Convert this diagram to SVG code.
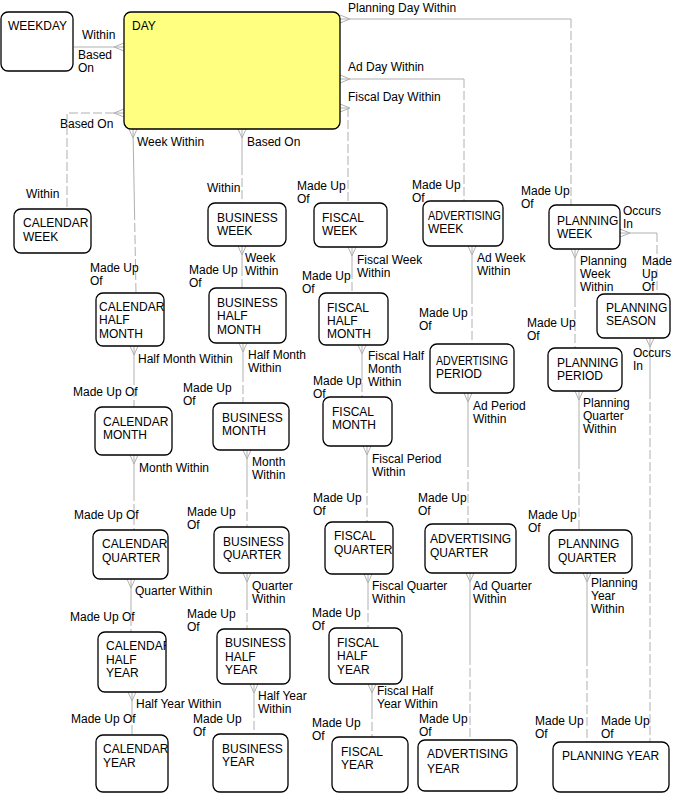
<svg xmlns="http://www.w3.org/2000/svg" width="674" height="794" viewBox="0 0 674 794">
<style>
.e rect{fill:#fff;stroke:#000;stroke-width:1.3}
#day rect{fill:#ffff80}
text{font-family:"Liberation Sans",Arial,sans-serif;font-size:12px;fill:#000}
.c path{fill:none;stroke:#b0b0b0;stroke-width:1}
.c path.d{stroke-dasharray:9 3}
</style>
<defs>
<clipPath id="clipChy"><rect x="98" y="632" width="68" height="60"/></clipPath>
</defs>
<rect width="674" height="794" fill="#fff"/>
<g id="connectors" class="c">
<path d="M74 47H124M114 47L124 43M114 47L124 51"/>
<path class="d" d="M114 113H67V209"/>
<path d="M114 113H124M114 113L124 109M114 113L124 117"/>
<path d="M133 129L134.5 211M133 138L129 129M133 138L137 129"/>
<path class="d" d="M134.5 211L136 293"/>
<path d="M134 346V376M134 355L130 346M134 355L138 346"/>
<path class="d" d="M134 376V407"/>
<path d="M134 455V492M134 464L130 455M134 464L138 455"/>
<path class="d" d="M134 492V530"/>
<path d="M131 579V605M131 588L127 579M131 588L135 579"/>
<path class="d" d="M131 605V632"/>
<path d="M132 692V713M132 701L128 692M132 701L136 692"/>
<path class="d" d="M132 713V735"/>
<path d="M242 129V166M242 138L238 129M242 138L246 129"/>
<path class="d" d="M242 166V203"/>
<path d="M242 246V267M242 255L238 246M242 255L246 246"/>
<path class="d" d="M242 267V288"/>
<path d="M243 343V373M243 352L239 343M243 352L247 343"/>
<path class="d" d="M243 373V403"/>
<path d="M247 450V488M247 459L243 450M247 459L251 450"/>
<path class="d" d="M247 488V527"/>
<path d="M247 573V601M247 582L243 573M247 582L251 573"/>
<path class="d" d="M247 601V629"/>
<path d="M254 684V709M254 693L250 684M254 693L258 684"/>
<path class="d" d="M254 709V734"/>
<path d="M340 108H348M350 108L340 104M350 108L340 112"/>
<path class="d" d="M348 108V203"/>
<path d="M352 247V270M352 256L348 247M352 256L356 247"/>
<path class="d" d="M352 270V293"/>
<path d="M362 345V371M362 354L358 345M362 354L366 345"/>
<path class="d" d="M362 371V397"/>
<path d="M367 446V484M367 455L363 446M367 455L371 446"/>
<path class="d" d="M367 484V522"/>
<path d="M368 574V601M368 583L364 574M368 583L372 574"/>
<path class="d" d="M368 601V628"/>
<path d="M372 684V710M372 693L368 684M372 693L376 684"/>
<path class="d" d="M372 710V737"/>
<path d="M340 79H464M350 79L340 75M350 79L340 83"/>
<path class="d" d="M464 79V201"/>
<path d="M472 246V295M472 255L468 246M472 255L476 246"/>
<path class="d" d="M472 295V344"/>
<path d="M468 393V458M468 402L464 393M468 402L472 393"/>
<path class="d" d="M468 458V524"/>
<path d="M470 573V656M470 582L466 573M470 582L474 573"/>
<path class="d" d="M470 656V740"/>
<path d="M340 19H571M350 19L340 15M350 19L340 23"/>
<path class="d" d="M571 19V205"/>
<path d="M620 233H657M630 233L620 229M630 233L620 237"/>
<path class="d" d="M657 233V294"/>
<path d="M575 249V298M575 258L571 249M575 258L579 249"/>
<path class="d" d="M575 298V348"/>
<path d="M579 391V460M579 400L575 391M579 400L583 391"/>
<path class="d" d="M579 460V530"/>
<path d="M587 573V657M587 582L583 573M587 582L591 573"/>
<path class="d" d="M587 657V742"/>
<path d="M650 338V390M650 347L646 338M650 347L654 338"/>
<path class="d" d="M650 390V742"/>
</g>
<g id="labels">
<text x="82" y="39">Within</text>
<text x="78" y="58.5">Based<tspan x="78" dy="13">On</tspan></text>
<text x="60" y="128">Based On</text>
<text x="26" y="198">Within</text>
<text x="137" y="146">Week Within</text>
<text x="90" y="272">Made Up<tspan x="90" dy="13">Of</tspan></text>
<text x="138" y="363">Half Month Within</text>
<text x="73" y="396">Made Up Of</text>
<text x="139" y="472">Month Within</text>
<text x="74" y="519">Made Up Of</text>
<text x="135" y="595">Quarter Within</text>
<text x="70" y="621">Made Up Of</text>
<text x="136" y="708">Half Year Within</text>
<text x="71" y="723">Made Up Of</text>

<text x="247" y="146">Based On</text>
<text x="207" y="192">Within</text>
<text x="245" y="262">Week<tspan x="245" dy="13">Within</tspan></text>
<text x="189" y="273.5">Made Up<tspan x="189" dy="13">Of</tspan></text>
<text x="248" y="358.5">Half Month<tspan x="248" dy="13">Within</tspan></text>
<text x="183" y="391.5">Made Up<tspan x="183" dy="13">Of</tspan></text>
<text x="252" y="466">Month<tspan x="252" dy="13">Within</tspan></text>
<text x="187" y="516">Made Up<tspan x="187" dy="13">Of</tspan></text>
<text x="252" y="589.5">Quarter<tspan x="252" dy="13">Within</tspan></text>
<text x="187" y="617.5">Made Up<tspan x="187" dy="13">Of</tspan></text>
<text x="258" y="700">Half Year<tspan x="258" dy="13">Within</tspan></text>
<text x="193" y="722.5">Made Up<tspan x="193" dy="13">Of</tspan></text>

<text x="348" y="101">Fiscal Day Within</text>
<text x="297" y="189.5">Made Up<tspan x="297" dy="13">Of</tspan></text>
<text x="357" y="263.5">Fiscal Week<tspan x="357" dy="13">Within</tspan></text>
<text x="302" y="280">Made Up<tspan x="302" dy="13">Of</tspan></text>
<text x="368" y="359.5">Fiscal Half<tspan x="368" dy="13">Month</tspan><tspan x="368" dy="13">Within</tspan></text>
<text x="313" y="384.5">Made Up<tspan x="313" dy="13">Of</tspan></text>
<text x="372" y="463">Fiscal Period<tspan x="372" dy="13">Within</tspan></text>
<text x="313" y="501.5">Made Up<tspan x="313" dy="13">Of</tspan></text>
<text x="372" y="589.5">Fiscal Quarter<tspan x="372" dy="13">Within</tspan></text>
<text x="312" y="617">Made Up<tspan x="312" dy="13">Of</tspan></text>
<text x="377" y="694.5">Fiscal Half<tspan x="377" dy="13">Year Within</tspan></text>
<text x="312" y="726.5">Made Up<tspan x="312" dy="13">Of</tspan></text>

<text x="348" y="71">Ad Day Within</text>
<text x="412" y="188.5">Made Up<tspan x="412" dy="13">Of</tspan></text>
<text x="477" y="262">Ad Week<tspan x="477" dy="13">Within</tspan></text>
<text x="419" y="316.5">Made Up<tspan x="419" dy="13">Of</tspan></text>
<text x="473" y="409.5">Ad Period<tspan x="473" dy="13">Within</tspan></text>
<text x="418" y="502">Made Up<tspan x="418" dy="13">Of</tspan></text>
<text x="473" y="589.5">Ad Quarter<tspan x="473" dy="13">Within</tspan></text>
<text x="419" y="722.5">Made Up<tspan x="419" dy="13">Of</tspan></text>

<text x="348" y="12">Planning Day Within</text>
<text x="521" y="194.5">Made Up<tspan x="521" dy="13">Of</tspan></text>
<text x="623" y="215">Occurs<tspan x="623" dy="13">In</tspan></text>
<text x="580" y="264.5">Planning<tspan x="580" dy="13">Week</tspan><tspan x="580" dy="13">Within</tspan></text>
<text x="642" y="264.5">Made<tspan x="642" dy="13">Up</tspan><tspan x="642" dy="13">Of</tspan></text>
<text x="527" y="326.5">Made Up<tspan x="527" dy="13">Of</tspan></text>
<text x="633" y="356.5">Occurs<tspan x="633" dy="13">In</tspan></text>
<text x="583" y="406.5">Planning<tspan x="583" dy="13">Quarter</tspan><tspan x="583" dy="13">Within</tspan></text>
<text x="528" y="518.5">Made Up<tspan x="528" dy="13">Of</tspan></text>
<text x="591" y="586.5">Planning<tspan x="591" dy="13">Year</tspan><tspan x="591" dy="13">Within</tspan></text>
<text x="535" y="724.5">Made Up<tspan x="535" dy="13">Of</tspan></text>
<text x="601" y="724.5">Made Up<tspan x="601" dy="13">Of</tspan></text>
</g>

<g id="weekday" class="e"><rect x="1" y="12" width="72" height="59" rx="7"/><text x="8" y="30">WEEKDAY</text></g>
<g id="day" class="e"><rect x="124" y="12" width="216" height="117" rx="7"/><text x="132" y="30">DAY</text></g>

<g id="calendar-week" class="e"><rect x="14" y="209" width="77" height="44" rx="7"/><text x="23" y="227">CALENDAR<tspan x="23" dy="14">WEEK</tspan></text></g>
<g id="calendar-half-month" class="e"><rect x="96" y="293" width="68" height="53" rx="7"/><text x="99" y="311">CALENDAR<tspan x="99" dy="13">HALF</tspan><tspan x="99" dy="14">MONTH</tspan></text></g>
<g id="calendar-month" class="e"><rect x="95" y="407" width="77" height="48" rx="7"/><text x="103" y="426">CALENDAR<tspan x="103" dy="13">MONTH</tspan></text></g>
<g id="calendar-quarter" class="e"><rect x="93" y="530" width="75" height="49" rx="7"/><text x="102" y="548">CALENDAR<tspan x="102" dy="14">QUARTER</tspan></text></g>
<g id="calendar-half-year" class="e"><rect x="98" y="632" width="68" height="60" rx="7"/><text x="106" y="650" clip-path="url(#clipChy)">CALENDAR<tspan x="106" dy="14">HALF</tspan><tspan x="106" dy="13">YEAR</tspan></text></g>
<g id="calendar-year" class="e"><rect x="96" y="735" width="72" height="57" rx="7"/><text x="103" y="753">CALENDAR<tspan x="103" dy="14">YEAR</tspan></text></g>

<g id="business-week" class="e"><rect x="208" y="203" width="78" height="43" rx="7"/><text x="217" y="222">BUSINESS<tspan x="217" dy="13">WEEK</tspan></text></g>
<g id="business-half-month" class="e"><rect x="209" y="288" width="77" height="55" rx="7"/><text x="217" y="307">BUSINESS<tspan x="217" dy="13">HALF</tspan><tspan x="217" dy="14">MONTH</tspan></text></g>
<g id="business-month" class="e"><rect x="213" y="403" width="76" height="47" rx="7"/><text x="222" y="422">BUSINESS<tspan x="222" dy="13">MONTH</tspan></text></g>
<g id="business-quarter" class="e"><rect x="214" y="527" width="75" height="46" rx="7"/><text x="223" y="546">BUSINESS<tspan x="223" dy="13">QUARTER</tspan></text></g>
<g id="business-half-year" class="e"><rect x="217" y="629" width="73" height="55" rx="7"/><text x="225" y="647">BUSINESS<tspan x="225" dy="14">HALF</tspan><tspan x="225" dy="13">YEAR</tspan></text></g>
<g id="business-year" class="e"><rect x="213" y="734" width="75" height="58" rx="7"/><text x="222" y="753">BUSINESS<tspan x="222" dy="13">YEAR</tspan></text></g>

<g id="fiscal-week" class="e"><rect x="314" y="203" width="73" height="44" rx="7"/><text x="322" y="222">FISCAL<tspan x="322" dy="13">WEEK</tspan></text></g>
<g id="fiscal-half-month" class="e"><rect x="319" y="293" width="69" height="52" rx="7"/><text x="327" y="312">FISCAL<tspan x="327" dy="13">HALF</tspan><tspan x="327" dy="13">MONTH</tspan></text></g>
<g id="fiscal-month" class="e"><rect x="323" y="397" width="69" height="49" rx="7"/><text x="332" y="416">FISCAL<tspan x="332" dy="13">MONTH</tspan></text></g>
<g id="fiscal-quarter" class="e"><rect x="325" y="522" width="68" height="52" rx="7"/><text x="334" y="540">FISCAL<tspan x="334" dy="14">QUARTER</tspan></text></g>
<g id="fiscal-half-year" class="e"><rect x="329" y="628" width="73" height="56" rx="7"/><text x="337" y="647">FISCAL<tspan x="337" dy="13">HALF</tspan><tspan x="337" dy="14">YEAR</tspan></text></g>
<g id="fiscal-year" class="e"><rect x="332" y="737" width="76" height="55" rx="7"/><text x="341" y="756">FISCAL<tspan x="341" dy="13">YEAR</tspan></text></g>

<g id="advertising-week" class="e"><rect x="423" y="201" width="80" height="45" rx="7"/><text x="428" y="220"><tspan textLength="73" lengthAdjust="spacingAndGlyphs">ADVERTISING</tspan><tspan x="428" dy="13">WEEK</tspan></text></g>
<g id="advertising-period" class="e"><rect x="430" y="344" width="84" height="49" rx="7"/><text x="436" y="364.5"><tspan textLength="72" lengthAdjust="spacingAndGlyphs">ADVERTISING</tspan><tspan x="436" dy="13">PERIOD</tspan></text></g>
<g id="advertising-quarter" class="e"><rect x="425" y="524" width="91" height="49" rx="7"/><text x="430" y="543">ADVERTISING<tspan x="430" dy="14">QUARTER</tspan></text></g>
<g id="advertising-year" class="e"><rect x="418" y="740" width="99" height="51" rx="7"/><text x="427" y="758">ADVERTISING<tspan x="427" dy="15">YEAR</tspan></text></g>

<g id="planning-week" class="e"><rect x="549" y="205" width="71" height="44" rx="7"/><text x="557" y="225">PLANNING<tspan x="557" dy="13">WEEK</tspan></text></g>
<g id="planning-season" class="e"><rect x="597" y="294" width="73" height="44" rx="7"/><text x="606" y="312">PLANNING<tspan x="606" dy="13">SEASON</tspan></text></g>
<g id="planning-period" class="e"><rect x="548" y="348" width="74" height="43" rx="7"/><text x="557" y="367">PLANNING<tspan x="557" dy="13">PERIOD</tspan></text></g>
<g id="planning-quarter" class="e"><rect x="549" y="530" width="83" height="43" rx="7"/><text x="558" y="548">PLANNING<tspan x="558" dy="14">QUARTER</tspan></text></g>
<g id="planning-year" class="e"><rect x="553" y="742" width="116" height="50" rx="7"/><text x="562" y="760">PLANNING YEAR</text></g>
</svg>
